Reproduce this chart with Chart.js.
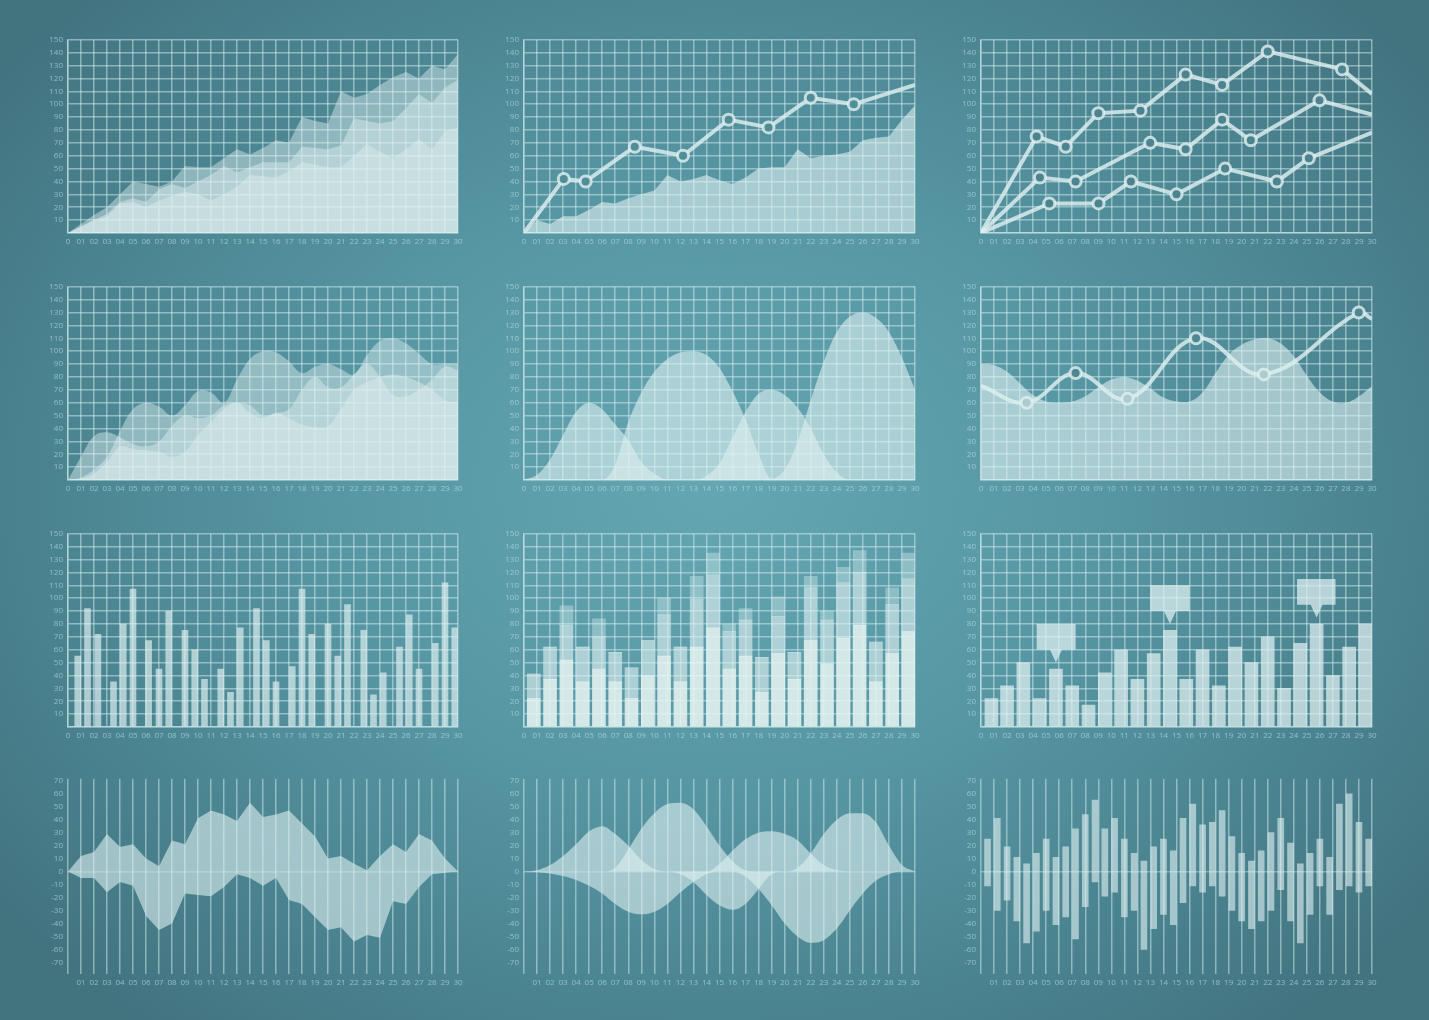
<!DOCTYPE html>
<html>
<head>
<meta charset="utf-8">
<script src="https://cdn.jsdelivr.net/npm/chart.js"></script>
<style>
  html, body { margin: 0; padding: 0; }
  body {
    width: 1429px; height: 1020px; overflow: hidden; position: relative;
    background: radial-gradient(ellipse 62% 68% at 50% 48%, #64a6b2 0%, #5898a5 40%, #4b8491 75%, #427480 100%);
  }
  canvas { position: absolute; }
</style>
</head>
<body>
<script>
// ---- tick labels ----
const days = [0, 1, 2, 3, 4, 5, 6, 7, 8, 9, 10, 11, 12, 13, 14, 15, 16, 17, 18, 19, 20, 21, 22, 23, 24, 25, 26, 27, 28, 29, 30];
const dayLabels = ['0', '01', '02', '03', '04', '05', '06', '07', '08', '09', '10', '11', '12', '13', '14', '15',
  '16', '17', '18', '19', '20', '21', '22', '23', '24', '25', '26', '27', '28', '29', '30'];
const waveDayLabels = ['', '01', '02', '03', '04', '05', '06', '07', '08', '09', '10', '11', '12', '13', '14', '15',
  '16', '17', '18', '19', '20', '21', '22', '23', '24', '25', '26', '27', '28', '29', '30'];
const valueTicks = [0, 10, 20, 30, 40, 50, 60, 70, 80, 90, 100, 110, 120, 130, 140, 150];
const waveTicks = [-70, -60, -50, -40, -30, -20, -10, 0, 10, 20, 30, 40, 50, 60, 70];

// ---- chart 1 : jagged overlapping areas ----
const c1Top = [0, 7, 14, 20, 30, 40, 38, 36, 40, 52, 51, 51, 58, 65, 61, 66, 72, 70, 90, 87, 85, 110, 105, 108, 115, 121, 125, 120, 130, 127, 139];
const c1Mid = [0, 5, 10, 15, 24, 27, 24, 34, 38, 35, 40, 45, 52, 47, 51, 55, 55, 55, 67, 66, 65, 68, 89, 87, 85, 87, 97, 108, 101, 113, 119];
const c1Low = [0, 5, 10, 13, 23, 24, 20, 25, 29, 32, 30, 25, 30, 36, 45, 44, 43, 48, 55, 53, 51, 51, 60, 69, 63, 58, 65, 73, 65, 79, 82];

// ---- chart 2 : area + marked line ----
const c2Area = [0, 10, 7, 13, 13, 18, 24, 23, 27, 30, 33, 45, 40, 42, 45, 41, 38, 43, 50, 51, 51, 65, 58, 60, 61, 63, 72, 74, 75, 88, 99];
const c2LineX = [0, 3.05, 4.73, 8.5, 12.2, 15.7, 18.76, 22, 25.3, 30];
const c2LineY = [0, 42, 40, 67, 60, 88, 82, 105, 100, 115];

// ---- chart 3 : three marked lines ----
const c3aX = [0, 4.27, 6.5, 9.0, 12.24, 15.7, 18.5, 22, 27.7, 30];
const c3aY = [0, 75, 67, 93, 95, 123, 115, 141, 127, 108];
const c3bX = [0, 4.52, 7.26, 12.98, 15.7, 18.5, 20.7, 25.97, 30];
const c3bY = [0, 43, 40, 70, 65, 88, 72, 103, 92];
const c3cX = [0, 5.24, 9.02, 11.5, 15.0, 18.73, 22.7, 25.15, 30];
const c3cY = [0, 23, 23, 40, 30, 50, 40, 58, 78];

// ---- chart 4 : smooth overlapping areas ----
const c4A = [0, 2, 8, 18, 38, 55, 60, 57, 50, 58, 69, 68, 60, 78, 94, 100, 99, 92, 83, 88, 90, 86, 82, 97, 108, 110, 106, 98, 90, 90, 90];
const c4B = [0, 18, 34, 37, 33, 28, 26, 30, 42, 50, 48, 50, 58, 60, 58, 50, 52, 55, 70, 80, 72, 72, 82, 90, 80, 66, 65, 70, 78, 88, 85];
const c4C = [0, 1, 5, 14, 26, 24, 23, 22, 18, 22, 35, 45, 55, 60, 52, 48, 52, 48, 43, 41, 42, 55, 70, 76, 80, 82, 80, 76, 70, 62, 60];

// ---- chart 5 : bell shaped areas ----
const c5First = [0, 4, 16, 35, 53, 60, 55, 43, 31, 14, 5, 0, 0, 0, 3, 13, 33, 53, 67, 70, 66, 56, 40, 20, 6, 0, 0, 0, 0, 0, 0];
const c5Second = [0, 0, 0, 0, 0, 0, 0, 12, 45, 68, 84, 94, 99, 100, 97, 87, 69, 47, 20, 1, 8, 30, 62, 92, 115, 127, 130, 126, 115, 95, 70];

// ---- chart 6 : wavy area + wavy marked line ----
const c6Area = [90, 89, 84, 75, 66, 61, 60, 61, 65, 72, 78, 80, 77, 71, 64, 61, 61, 68, 83, 97, 105, 109, 110, 106, 96, 81, 68, 61, 60, 65, 73];
const c6LineX = [0, 3.5, 7.26, 11.24, 16.5, 21.7, 28.98, 30];
const c6LineY = [73, 60, 83, 63, 110, 82, 130, 125];

// ---- chart 7 : thin bars in threes ----
const c7Slots = [0.75, 1.5, 2.3, 3.5, 4.25, 5.0, 6.2, 7.0, 7.75, 9.0, 9.75, 10.5, 11.75, 12.5, 13.25, 14.5, 15.25, 16.0,
  17.25, 18.0, 18.75, 20.0, 20.75, 21.5, 22.75, 23.5, 24.25, 25.5, 26.25, 27.0, 28.25, 29.0, 29.75];
const c7Vals = [55, 92, 72, 35, 80, 107, 67, 45, 90, 75, 60, 37, 45, 27, 77, 92, 67, 35, 47, 107, 72, 80, 55, 95,
  75, 25, 42, 62, 87, 45, 65, 112, 77];

// ---- chart 8 : stacked bars ----
const c8Slots = [0.75, 2, 3.25, 4.5, 5.75, 7, 8.25, 9.5, 10.75, 12, 13.25, 14.5, 15.75, 17, 18.25, 19.5, 20.75, 22, 23.25, 24.5, 25.75, 27, 28.25, 29.5];
const c8Base = [22, 37, 52, 35, 45, 35, 22, 40, 55, 35, 62, 77, 45, 55, 27, 57, 37, 67, 49, 69, 79, 35, 57, 74];
const c8Middle = [19, 25, 27, 27, 25, 23, 24, 27, 32, 27, 37, 41, 29, 28, 27, 29, 21, 41, 34, 43, 41, 31, 38, 41];
const c8Cap = [0, 0, 15, 0, 14, 0, 0, 0, 13, 0, 18, 17, 6, 9, 0, 15, 0, 9, 7, 12, 17, 0, 13, 20];

// ---- chart 9 : bars with callouts ----
const c9Slots = [0.8, 2, 3.25, 4.5, 5.75, 7, 8.25, 9.5, 10.75, 12, 13.25, 14.5, 15.75, 17, 18.25, 19.5, 20.75, 22, 23.25, 24.5, 25.75, 27, 28.25, 29.5];
const c9Vals = [22, 32, 50, 22, 45, 32, 17, 42, 60, 37, 57, 75, 37, 60, 32, 62, 50, 70, 30, 65, 80, 40, 62, 80];
const calloutLeft = [4.27, 12.98, 24.25];
const calloutRight = [7.26, 16.0, 27.2];
const calloutLow = [60, 90, 95];
const calloutHigh = [80, 110, 115];
const calloutPointX = [5.75, 14.5, 25.75];
const calloutTip = [50, 80, 85];

// ---- chart 10 : up / down jagged areas ----
const c10Up = [0, 12, 15, 29, 19, 21, 10, 4, 24, 21, 41, 47, 44, 39, 53, 42, 44, 47, 37, 27, 10, 12, 6, 1, 12, 21, 15, 29, 24, 10, 0];
const c10Down = [0, -5, -5, -16, -8, -11, -34, -45, -40, -17, -18, -19, -12, -2, -5, -11, -5, -22, -25, -35, -45, -43, -54, -49, -51, -23, -25, -12, -2, -1, 0];

// ---- chart 11 : up / down bells ----
const c11UpA = [0, 1, 5, 12, 21, 31, 35, 29, 20, 9, 2, 0, 0, 0, 0, 6, 16, 25, 30, 31, 29, 24, 14, 5, 1, 0, 0, 0, 0, 0, 0];
const c11UpB = [0, 0, 0, 0, 0, 0, 0, 3, 17, 33, 45, 52, 53, 48, 35, 20, 8, 1, 0, 0, 0, 3, 14, 29, 40, 45, 45, 38, 20, 5, 0];
const c11DownA = [0, -0.5, -1.5, -3.5, -6.5, -11, -17, -25, -31, -33, -31, -25, -16, -8, -2, 0, 0, -4, -13.5, -26, -40, -50, -55, -53, -44, -30, -17, -7, -2, 0, 0];
const c11DownB = [0, 0, 0, 0, 0, 0, 0, 0, 0, 0, 0, 0, -2, -8, -18, -26, -29.5, -25, -13.5, -2, 0, 0, 0, 0, 0, 0, 0, 0, 0, 0, 0];

// ---- chart 12 : floating bars ----
const c12Slots = [0.5, 1.25, 2, 2.75, 3.5, 4.25, 5, 5.75, 6.5, 7.25, 8, 8.75, 9.5, 10.25, 11, 11.75, 12.5, 13.25, 14, 14.75,
  15.5, 16.25, 17, 17.75, 18.5, 19.25, 20, 20.75, 21.5, 22.25, 23, 23.75, 24.5, 25.25, 26, 26.75, 27.5, 28.25, 29, 29.75];
const c12Low = [-11, -30, -22, -38, -55, -46, -30, -41, -35, -52, -27, -8, -19, -16, -35, -30, -60, -44, -33, -41,
  -24, -11, -16, -11, -19, -30, -38, -44, -38, -30, -14, -38, -55, -33, -11, -33, -14, -11, -16, -11];
const c12High = [25, 41, 19, 11, 6, 14, 25, 11, 19, 33, 44, 55, 33, 41, 25, 14, 8, 19, 25, 16,
  41, 52, 36, 38, 47, 27, 14, 8, 16, 30, 41, 22, 6, 14, 25, 11, 52, 60, 38, 25];

// ---- layout & styles ----
const COLS = [{ left: 68, w: 390 }, { left: 524, w: 391 }, { left: 981, w: 391 }];
const ROWS = [{ top: 38, h: 195 }, { top: 285, h: 195 }, { top: 532, h: 195 }, { top: 777, h: 197 }];
const Y_W = 30, X_H = 16, PAD_T = 8, PAD_R = 12;

const GRID = 'rgba(215,240,242,0.5)';
const ZERO = 'rgba(205,235,238,0.45)';
const TXT = 'rgba(195,228,233,0.6)';
const FILL = 'rgba(225,240,240,0.45)';
const FILL_SOLO = 'rgba(222,240,240,0.6)';
const LINE = 'rgba(222,239,239,0.82)';
const FONT = { family: "'Open Sans', 'DejaVu Sans', sans-serif", size: 8 };

function axes(wave, stacked) {
  const xs = wave ? waveDayLabels : dayLabels;
  const ys = wave ? waveTicks : valueTicks;
  return {
    x: {
      type: 'linear', min: 0, max: 30, offset: false, stacked: !!stacked, z: 1,
      grid: { color: GRID, lineWidth: 1.5, drawTicks: false, offset: false },
      border: { display: !wave, color: GRID, width: 1.5 },
      afterBuildTicks: s => { s.ticks = days.map(v => ({ value: v })); },
      afterFit: s => { s.height = X_H; },
      ticks: { autoSkip: false, maxRotation: 0, padding: 4, color: TXT, font: FONT, callback: (v, i) => xs[i] }
    },
    y: {
      type: 'linear', min: wave ? -79 : 0, max: wave ? 71.5 : 150, stacked: !!stacked, z: 1,
      grid: wave
        ? { color: c => (c.tick && c.tick.value === 0) ? ZERO : 'rgba(0,0,0,0)', lineWidth: 1.5, drawTicks: false }
        : { color: GRID, lineWidth: 1.5, drawTicks: false },
      border: { display: !wave, color: GRID, width: 1.5 },
      afterBuildTicks: s => { s.ticks = ys.map(v => ({ value: v })); },
      afterFit: s => { s.width = Y_W; },
      ticks: { padding: 5, color: TXT, font: FONT, callback: v => (v === 0 && !wave) ? '' : String(v) }
    }
  };
}

function draw(col, row, cfg, wave, stacked) {
  const c = document.createElement('canvas');
  c.width = Y_W + COLS[col].w + PAD_R;
  c.height = PAD_T + ROWS[row].h + X_H;
  c.style.left = (COLS[col].left - Y_W) + 'px';
  c.style.top = (ROWS[row].top - PAD_T) + 'px';
  document.body.appendChild(c);
  cfg.options = {
    responsive: false, animation: false,
    layout: { padding: { top: PAD_T, right: PAD_R, left: 0, bottom: 0 } },
    plugins: { legend: { display: false }, tooltip: { enabled: false } },
    scales: axes(wave, stacked)
  };
  return new Chart(c, cfg);
}

const area = (data, color, extra) => Object.assign({
  data, fill: 'origin', backgroundColor: color, borderWidth: 0, pointRadius: 0
}, extra || {});
const pts = (xs, ys) => xs.map((x, i) => ({ x, y: ys[i] }));
const ringRadii = n => Array.from({ length: n }, (_, i) => (i === 0 || i === n - 1) ? 0 : 5.5);
const marked = (xs, ys, bg, extra) => Object.assign({
  data: pts(xs, ys), borderColor: LINE, borderWidth: 4, fill: false,
  pointRadius: ringRadii(xs.length), pointBorderWidth: 3, pointBorderColor: LINE,
  pointBackgroundColor: bg
}, extra || {});

// 1
draw(0, 0, { type: 'line', data: { labels: days, datasets: [
  area(c1Low, FILL), area(c1Mid, FILL), area(c1Top, FILL)
] } });

// 2
draw(1, 0, { type: 'line', data: { labels: days, datasets: [
  marked(c2LineX, c2LineY, 'rgb(80,141,153)'),
  area(c2Area, FILL_SOLO)
] } });

// 3
draw(2, 0, { type: 'line', data: { datasets: [
  marked(c3aX, c3aY, 'rgb(76,131,143)'),
  marked(c3bX, c3bY, 'rgb(76,131,143)'),
  marked(c3cX, c3cY, 'rgb(76,131,143)')
] } });

// 4
draw(0, 1, { type: 'line', data: { labels: days, datasets: [
  area(c4C, FILL, { tension: 0.4 }), area(c4B, FILL, { tension: 0.4 }), area(c4A, FILL, { tension: 0.4 })
] } });

// 5
draw(1, 1, { type: 'line', data: { labels: days, datasets: [
  area(c5First, FILL_SOLO, { cubicInterpolationMode: 'monotone' }),
  area(c5Second, FILL_SOLO, { cubicInterpolationMode: 'monotone' })
] } });

// 6
draw(2, 1, { type: 'line', data: { labels: days, datasets: [
  marked(c6LineX, c6LineY,
    ['rgb(0,0,0)', 'rgb(172,204,206)', 'rgb(78,134,146)', 'rgb(172,204,206)', 'rgb(78,134,146)', 'rgb(172,204,206)', 'rgb(78,134,146)', 'rgb(0,0,0)'],
    { tension: 0.4 }),
  area(c6Area, FILL_SOLO, { tension: 0.4 })
] } });

// 7
draw(0, 2, { type: 'bar', data: { labels: c7Slots, datasets: [
  { data: c7Vals, backgroundColor: 'rgba(222,240,240,0.68)', barThickness: 6 }
] } });

// 8
draw(1, 2, { type: 'bar', data: { labels: c8Slots, datasets: [
  { data: c8Base, backgroundColor: 'rgba(232,244,242,0.86)', barThickness: 13 },
  { data: c8Middle, backgroundColor: 'rgba(222,240,240,0.62)', barThickness: 13 },
  { data: c8Cap, backgroundColor: 'rgba(215,238,238,0.4)', barThickness: 13 }
] } }, false, true);

// 9
const calloutPlugin = {
  id: 'callouts',
  afterDatasetsDraw(chart) {
    const { ctx, scales: { x, y } } = chart;
    ctx.save();
    ctx.fillStyle = 'rgba(225,241,241,0.72)';
    calloutPointX.forEach((px, i) => {
      const l = x.getPixelForValue(calloutLeft[i]), r = x.getPixelForValue(calloutRight[i]);
      const t = y.getPixelForValue(calloutHigh[i]), b = y.getPixelForValue(calloutLow[i]);
      const m = x.getPixelForValue(px), tip = y.getPixelForValue(calloutTip[i]);
      ctx.beginPath();
      ctx.moveTo(l, t); ctx.lineTo(r, t); ctx.lineTo(r, b);
      ctx.lineTo(m + 6, b); ctx.lineTo(m, tip); ctx.lineTo(m - 6, b);
      ctx.lineTo(l, b); ctx.closePath(); ctx.fill();
    });
    ctx.restore();
  }
};
draw(2, 2, { type: 'bar', plugins: [calloutPlugin], data: { labels: c9Slots, datasets: [
  { data: c9Vals, backgroundColor: 'rgba(225,241,241,0.72)', barThickness: 13 }
] } });

// 10
draw(0, 3, { type: 'line', data: { labels: days, datasets: [
  area(c10Up, FILL_SOLO), area(c10Down, FILL_SOLO)
] } }, true);

// 11
draw(1, 3, { type: 'line', data: { labels: days, datasets: [
  area(c11UpA, FILL_SOLO, { cubicInterpolationMode: 'monotone' }),
  area(c11UpB, FILL_SOLO, { cubicInterpolationMode: 'monotone' }),
  area(c11DownA, FILL_SOLO, { cubicInterpolationMode: 'monotone' }),
  area(c11DownB, FILL_SOLO, { cubicInterpolationMode: 'monotone' })
] } }, true);

// 12
draw(2, 3, { type: 'bar', data: { labels: c12Slots, datasets: [
  { data: c12Low.map((lo, i) => [lo, c12High[i]]), backgroundColor: 'rgba(222,240,240,0.62)', barThickness: 6 }
] } }, true);
</script>
</body>
</html>
